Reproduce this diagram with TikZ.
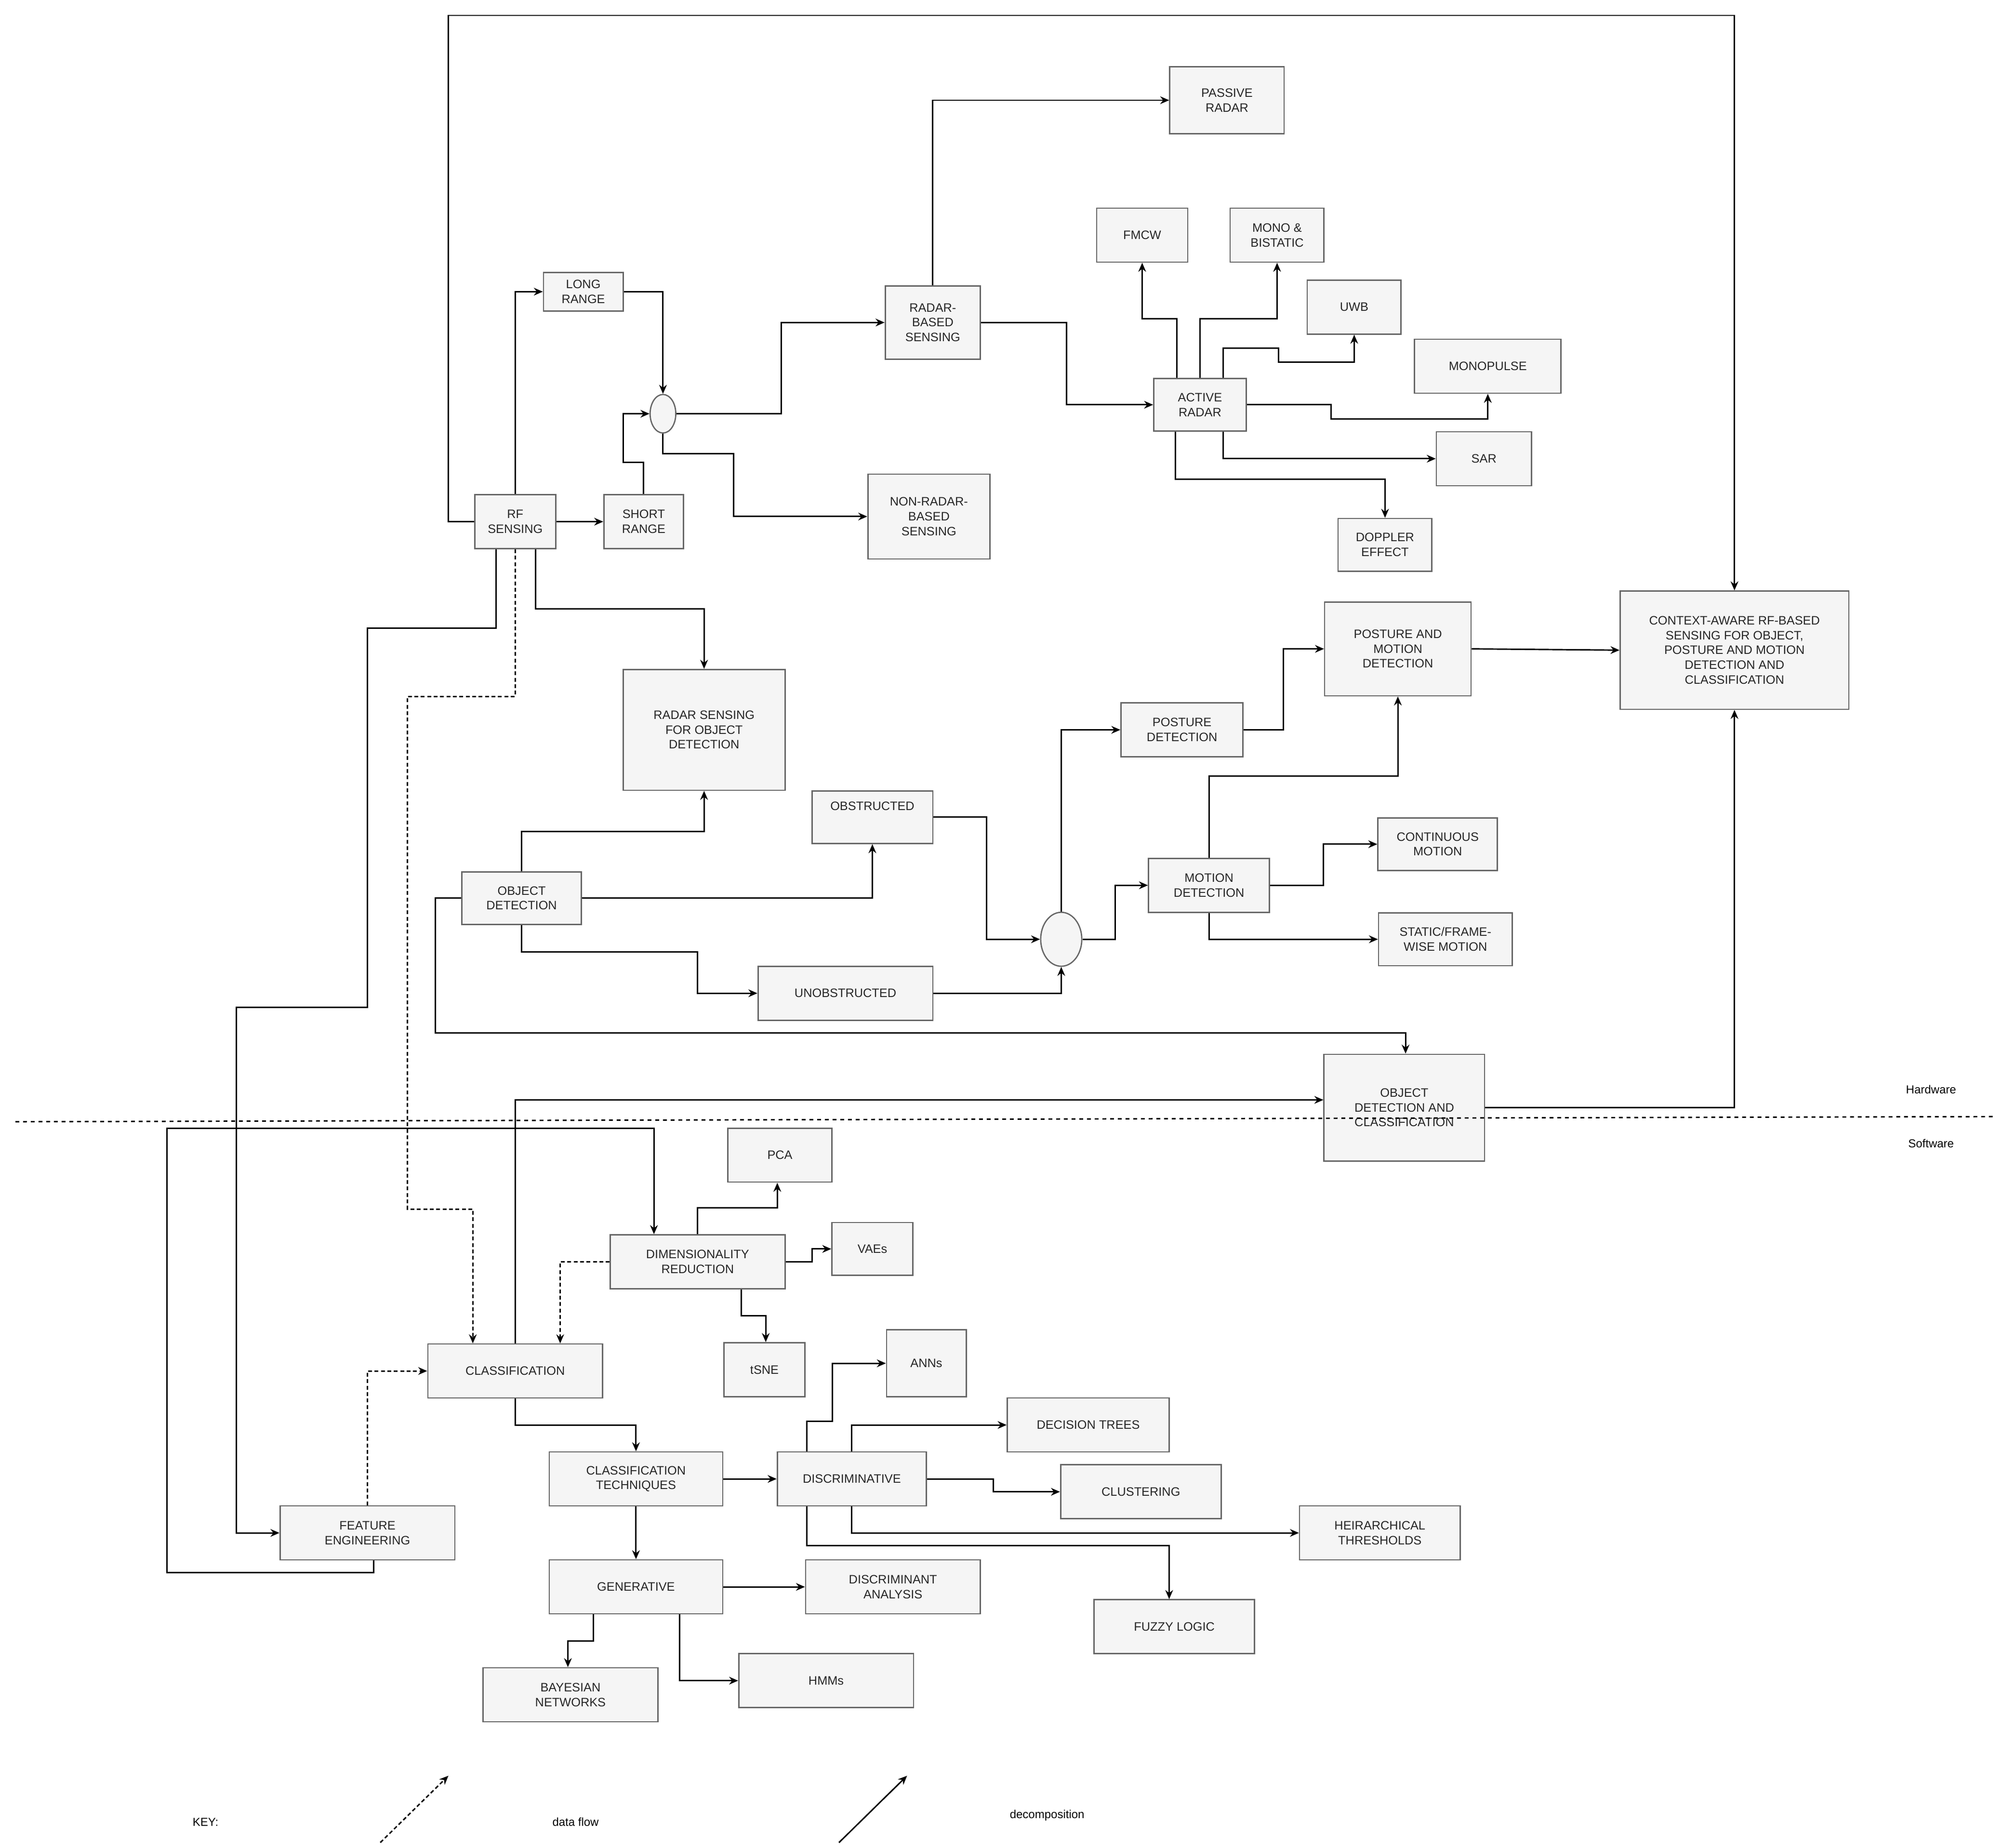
\documentclass[tikz,border=0pt]{standalone}
\usepackage{fontspec}
\setmainfont{Liberation Sans}
\usetikzlibrary{arrows.meta,shapes.geometric}
\begin{document}
\begin{tikzpicture}[x=1pt,y=-1pt,
  box/.style={draw=black!60, fill=black!4, line width=1pt, align=center, inner sep=1pt, font=\fontsize{9.5}{11.5}\selectfont, text=black!85},
  jn/.style={ellipse, draw=black!60, fill=black!4, line width=1pt, inner sep=0pt},
  ar/.style={line width=1.1pt, -{Stealth[length=7pt,width=6pt]}},
  df/.style={ar, dashed, dash pattern=on 3pt off 2pt},
  lbl/.style={font=\fontsize{9}{11}\selectfont}]
\useasboundingbox (0,0) rectangle (1559,1438);
\newcommand{\bx}[6]{\node[box, minimum width=#4pt, minimum height=#5pt] (#1) at (#2,#3) {#6};}
\bx{passive}{955}{78}{89}{52}{PASSIVE\\RADAR}
\bx{fmcw}{889}{183}{71}{42}{FMCW}
\bx{mono}{994}{183}{73}{42}{MONO \&\\BISTATIC}
\bx{uwb}{1054}{239}{73}{42}{UWB}
\bx{monopulse}{1158}{285}{114}{42}{MONOPULSE}
\bx{sar}{1155}{357}{74}{42}{SAR}
\bx{doppler}{1078}{424}{73}{41}{DOPPLER\\EFFECT}
\bx{active}{934}{315}{72}{41}{ACTIVE\\RADAR}
\bx{radarbased}{726}{251}{74}{57}{RADAR-\\BASED\\SENSING}
\bx{longrange}{454}{227}{62}{30}{LONG\\RANGE}
\node[jn, minimum width=20pt, minimum height=30pt] (j1) at (516,322) {};
\bx{nonradar}{723}{402}{95}{66}{NON-RADAR-\\BASED\\SENSING}
\bx{rf}{401}{406}{63}{42}{RF\\SENSING}
\bx{short}{501}{406}{62}{42}{SHORT\\RANGE}
\bx{radarsensing}{548}{568}{126}{94}{RADAR SENSING\\FOR OBJECT\\DETECTION}
\bx{objdet}{406}{699}{93}{41}{OBJECT\\DETECTION}
\bx{obstructed}{679}{636}{94}{41}{OBSTRUCTED\\[6pt]}
\bx{unobstructed}{658}{773}{136}{42}{UNOBSTRUCTED}
\node[jn, minimum width=32pt, minimum height=42pt] (j2) at (826,731) {};
\bx{motion}{941}{689}{94}{42}{MOTION\\DETECTION}
\bx{posture}{920}{568}{95}{42}{POSTURE\\DETECTION}
\bx{posturemotion}{1088}{505}{114}{73}{POSTURE AND\\MOTION\\DETECTION}
\bx{continuous}{1119}{657}{93}{41}{CONTINUOUS\\MOTION}
\bx{static}{1125}{731}{104}{41}{STATIC/FRAME-\\WISE MOTION}
\bx{context}{1350}{506}{178}{92}{CONTEXT-AWARE RF-BASED\\SENSING FOR OBJECT,\\POSTURE AND MOTION\\DETECTION AND\\CLASSIFICATION}
\bx{objclass}{1093}{862}{125}{83}{OBJECT\\DETECTION AND\\CLASSIFICATION}
\bx{pca}{607}{899}{81}{42}{PCA}
\bx{dimred}{543}{982}{136}{42}{DIMENSIONALITY\\REDUCTION}
\bx{vaes}{679}{972}{63}{41}{VAEs}
\bx{tsne}{595}{1066}{63}{42}{tSNE}
\bx{classification}{401}{1067}{136}{42}{CLASSIFICATION}
\bx{anns}{721}{1061}{62}{52}{ANNs}
\bx{dectrees}{847}{1109}{126}{42}{DECISION TREES}
\bx{clustering}{888}{1161}{125}{42}{CLUSTERING}
\bx{heir}{1074}{1193}{125}{42}{HEIRARCHICAL\\THRESHOLDS}
\bx{fuzzy}{914}{1266}{125}{42}{FUZZY LOGIC}
\bx{classtech}{495}{1151}{135}{42}{CLASSIFICATION\\TECHNIQUES}
\bx{disc}{663}{1151}{116}{42}{DISCRIMINATIVE}
\bx{feature}{286}{1193}{136}{42}{FEATURE\\ENGINEERING}
\bx{generative}{495}{1235}{135}{42}{GENERATIVE}
\bx{discanalysis}{695}{1235}{136}{42}{DISCRIMINANT\\ANALYSIS}
\bx{bayes}{444}{1319}{136}{42}{BAYESIAN\\NETWORKS}
\bx{hmms}{643}{1308}{136}{42}{HMMs}
% connectors
\draw[ar] (rf.west) -- (349,406) -- (349,12) -- (1350,12) -- (context.north);
\draw[ar] (rf.north) |- (longrange.west);
\draw[ar] (longrange.east) -| (j1.north);
\draw[ar] (short.north) -- (501,360) -- (485,360) -- (485,322) -- (j1.west);
\draw[ar] (rf.east) -- (short.west);
\draw[ar] (j1.east) -- (608,322) |- (radarbased.west);
\draw[ar] (j1.south) -- (516,353) -- (571,353) |- (nonradar.west);
\draw[ar] (radarbased.north) |- (passive.west);
\draw[ar] (radarbased.east) -- (830,251) |- (active.west);
\draw[ar] (active.north -| 916,0) -- (916,248) -- (889,248) -- (fmcw.south);
\draw[ar] (active.north) -- (934,248) -- (994,248) -- (mono.south);
\draw[ar] (active.north -| 952,0) -- (952,271) -- (995,271) -- (995,282) -- (1054,282) -- (uwb.south);
\draw[ar] (active.east) -- (1036,315) -- (1036,326) -- (1158,326) -- (monopulse.south);
\draw[ar] (active.south -| 952,0) |- (sar.west);
\draw[ar] (active.south -| 915,0) -- (915,373) -- (1078,373) -- (doppler.north);
\draw[ar] (rf.south -| 417,0) -- (417,474) -- (548,474) -- (radarsensing.north);
\draw[ar] (rf.south -| 386,0) -- (386,489) -- (286,489) -- (286,784) -- (184,784) |- (feature.west);
\draw[df] (rf.south) -- (401,542) -- (317,542) -- (317,941) -- (368,941) -- (classification.north -| 368,0);
\draw[ar] (objdet.north) -- (406,647) -- (548,647) -- (radarsensing.south);
\draw[ar] (objdet.east) -| (obstructed.south);
\draw[ar] (objdet.south) -- (406,741) -- (543,741) |- (unobstructed.west);
\draw[ar] (objdet.west) -- (339,699) -- (339,804) -- (1094,804) -- (objclass.north -| 1094,0);
\draw[ar] (obstructed.east) -- (768,636) |- (j2.west);
\draw[ar] (unobstructed.east) -| (j2.south);
\draw[ar] (j2.north) |- (posture.west);
\draw[ar] (j2.east) -- (868,731) |- (motion.west);
\draw[ar] (posture.east) -- (999,568) |- (posturemotion.west);
\draw[ar] (motion.north) -- (941,604) -| (posturemotion.south);
\draw[ar] (motion.east) -- (1030,689) |- (continuous.west);
\draw[ar] (motion.south) |- (static.west);
\draw[ar] (posturemotion.east) -- (context.west);
\draw[ar] (objclass.east |- 0,862) -| (context.south);
\draw[ar] (classification.north) |- (objclass.west |- 0,856);
\draw[ar] (feature.south -| 291,0) -- (291,1224) -- (130,1224) -- (130,878) -- (509,878) -- (dimred.north -| 509,0);
\draw[ar] (dimred.north) -- (543,940) -- (605,940) -- (pca.south -| 605,0);
\draw[ar] (dimred.east) -- (632,982) |- (vaes.west);
\draw[ar] (dimred.south -| 577,0) -- (577,1024) -- (596,1024) -- (tsne.north -| 596,0);
\draw[df] (dimred.west) -- (436,982) -- (classification.north -| 436,0);
\draw[df] (feature.north) |- (classification.west);
\draw[ar] (classification.south) -- (401,1109) -- (495,1109) -- (classtech.north);
\draw[ar] (classtech.east) -- (disc.west);
\draw[ar] (classtech.south) -- (generative.north);
\draw[ar] (disc.north -| 628,0) -- (628,1106) -- (648,1106) |- (anns.west);
\draw[ar] (disc.north) |- (dectrees.west);
\draw[ar] (disc.east) -- (773,1151) |- (clustering.west);
\draw[ar] (disc.south) |- (heir.west);
\draw[ar] (disc.south -| 628,0) -- (628,1203) -- (910,1203) -- (fuzzy.north -| 910,0);
\draw[ar] (generative.east) -- (discanalysis.west);
\draw[ar] (generative.south -| 462,0) -- (462,1277) -- (442,1277) -- (bayes.north -| 442,0);
\draw[ar] (generative.south -| 529,0) |- (hmms.west);
% separator
\draw[line width=1.1pt, dash pattern=on 3pt off 3pt] (12,873) -- (1552,869);
\node[lbl] (hw) at (1503,848) {Hardware};
\node[lbl] (sw) at (1503,890) {Software};
% key
\node[lbl] (key) at (160,1418) {KEY:};
\coordinate (k1a) at (296,1434); \coordinate (k1b) at (349,1382);
\draw[df] (k1a) -- (k1b);
\node[lbl] (dfl) at (448,1418) {data flow};
\coordinate (k2a) at (653,1434); \coordinate (k2b) at (706,1382);
\draw[ar] (k2a) -- (k2b);
\node[lbl] (dec) at (815,1413) {decomposition};
\end{tikzpicture}
\end{document}
